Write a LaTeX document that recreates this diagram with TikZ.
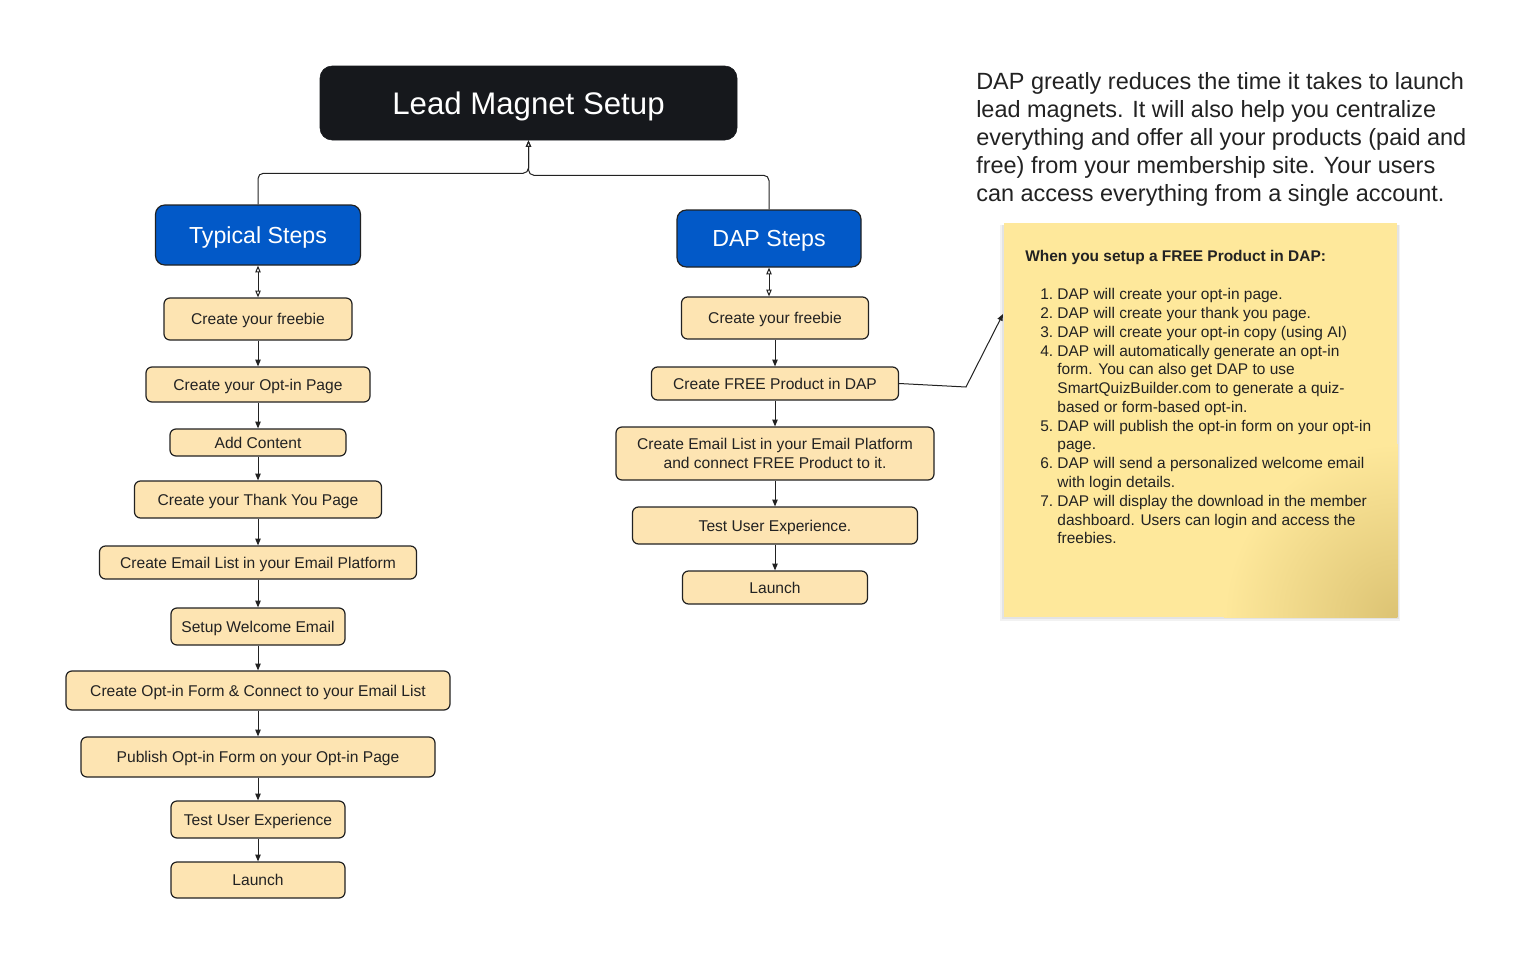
\documentclass[tikz,border=0pt]{standalone}
\usepackage{fontspec}
\setmainfont{Liberation Sans}
\usetikzlibrary{arrows.meta,positioning,calc}
\definecolor{headblack}{HTML}{16181C}
\definecolor{grpblue}{HTML}{0259C8}
\definecolor{boxfill}{HTML}{FDE4B2}
\definecolor{notefill}{HTML}{FEE89B}
\definecolor{notedark}{HTML}{DCC373}
\definecolor{ink}{HTML}{222222}
\tikzset{
  head/.style={draw=headblack,fill=headblack,text=white,rounded corners=9pt,inner sep=0pt,text height=16.8pt,text depth=0pt,font=\fontsize{23.4}{28}\selectfont},
  grp/.style={draw=ink,line width=0.9pt,fill=grpblue,text=white,rounded corners=7pt,inner sep=0pt,text height=12.5pt,text depth=0pt,font=\fontsize{17.4}{21}\selectfont},
  stepbox/.style={draw=ink,line width=0.9pt,fill=boxfill,text=ink,rounded corners=4.5pt,inner sep=0pt,align=center,text height=8.4pt,text depth=0pt,font=\fontsize{11.7}{14.2}\selectfont},
  arr/.style={-{Triangle[length=5pt,width=4pt]},line width=0.75pt,draw=ink},
  oarr/.style={-{Triangle[open,length=5pt,width=4pt]},line width=0.75pt,draw=ink},
  darr/.style={{Triangle[open,length=5pt,width=4pt]}-{Triangle[open,length=5pt,width=4pt]},line width=0.75pt,draw=ink},
  notebox/.style={fill=notefill,inner sep=0pt},
}

\begin{document}
\begin{tikzpicture}[x=0.75pt,y=-0.75pt]
  \useasboundingbox[fill=white] (0,0) rectangle (1536,964);
  \node[head,minimum width=417*0.75pt,minimum height=74*0.75pt] (title) at (528.5,103) {Lead Magnet Setup};
  \node[grp,minimum width=205*0.75pt,minimum height=60*0.75pt] (typ) at (258,235) {Typical Steps};
  \node[grp,minimum width=184*0.75pt,minimum height=57*0.75pt] (dap) at (769,238.5) {DAP Steps};
  \foreach \i/\y/\w/\h/\lab in {1/319/188/42/{Create your freebie}, 2/384.5/224/35/{Create your Opt-in Page},
    3/442.5/176/27/{Add Content}, 4/499.5/247/37/{Create your Thank You Page},
    5/562.5/317/33/{Create Email List in your Email Platform}, 6/626.5/174/37/{Setup Welcome Email},
    7/690.5/384/39/{Create Opt-in Form \& Connect to your Email List}, 8/757/354/40/{Publish Opt-in Form on your Opt-in Page},
    9/819.5/174/37/{Test User Experience}, 10/880/174/36/{Launch}} {
    \node[stepbox,minimum width=\w*0.75pt,minimum height=\h*0.75pt] (t\i) at (258,\y) {\lab};
  }
  \foreach \i/\y/\w/\h/\lab in {1/318/187/42/{Create your freebie}, 2/383.5/247/33/{Create FREE Product in DAP},
    4/525.5/285/37/{Test User Experience.}, 5/587.5/185/33/{Launch}} {
    \node[stepbox,minimum width=\w*0.75pt,minimum height=\h*0.75pt] (d\i) at (775,\y) {\lab};
  }
  \node[stepbox,text height={},text depth={},minimum width=318*0.75pt,minimum height=53*0.75pt] (d3) at (775,453.5)
    {Create Email List in your Email Platform\\and connect FREE Product to it.};
  \draw[oarr,rounded corners=4pt] (typ.north) |- ($(title.south)+(0,33)$) -- (title.south);
  \draw[oarr,rounded corners=4pt] (dap.north) |- ($(title.south)+(0,35)$) -- (title.south);
  \draw[darr] (typ.south) -- (t1.north);
  \draw[darr] (dap.south) -- (dap.south |- d1.north);
  \foreach \i [evaluate=\i as \j using int(\i+1)] in {1,...,9}
    \draw[arr] (t\i) -- (t\j);
  \foreach \i [evaluate=\i as \j using int(\i+1)] in {1,...,4}
    \draw[arr] (d\i) -- (d\j);
  \node[anchor=north west,inner sep=0pt,align=left,text=ink,font=\fontsize{17.6}{21}\selectfont] (intro) at (976,72)
    {DAP greatly reduces the time it takes to launch\\lead magnets. It will also help you centralize\\everything and offer all your products (paid and\\free) from your membership site. Your users\\can access everything from a single account.};
  \fill[black!5] (1000,225) rectangle (1400,621);
  \fill[black!11] (1002,225) rectangle (1399,619);
  \node[notebox,minimum width=393*0.75pt,minimum height=394*0.75pt] (note) at (1200.5,420) {};
  \begin{scope}
    \clip (note.south west) rectangle (note.north east);
    \shade[inner color=notedark,outer color=notefill] (note.south east) circle[radius=130pt];
  \end{scope}
  \node[anchor=north west,inner sep=0pt,text=ink,font=\fontsize{11.6}{14.08}\bfseries\selectfont] (notehead) at (1025,250)
    {When you setup a FREE Product in DAP:};
  \node[anchor=north west,inner sep=0pt,text=ink,font=\fontsize{11.6}{14.08}\selectfont] (notelist) at (1040,286.4) {%
    \begin{tabular}{@{}r@{\hspace{3.2pt}}l@{}}
      1.& DAP will create your opt-in page.\\
      2.& DAP will create your thank you page.\\
      3.& DAP will create your opt-in copy (using AI)\\
      4.& DAP will automatically generate an opt-in\\
        & form. You can also get DAP to use\\
        & SmartQuizBuilder.com to generate a quiz-\\
        & based or form-based opt-in.\\
      5.& DAP will publish the opt-in form on your opt-in\\
        & page.\\
      6.& DAP will send a personalized welcome email\\
        & with login details.\\
      7.& DAP will display the download in the member\\
        & dashboard. Users can login and access the\\
        & freebies.
    \end{tabular}};
  \coordinate (bend) at (966,387);
  \coordinate (notein) at (1003,314);
  \draw[arr] (d2.east) -- (bend) -- (notein);
\end{tikzpicture}
\end{document}
